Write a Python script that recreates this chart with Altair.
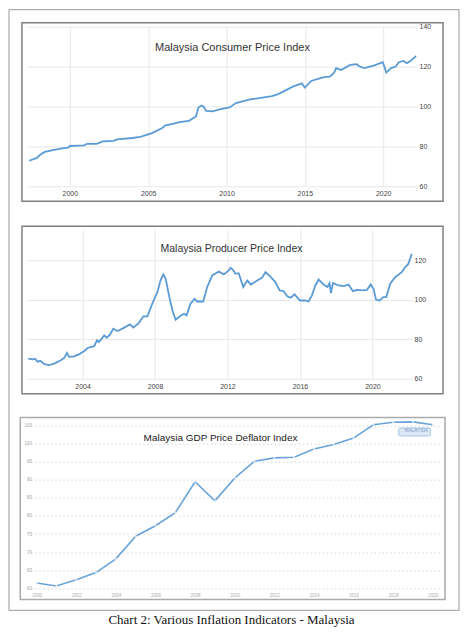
import altair as alt
import pandas as pd

# ---------------- data ----------------
cpi_year = [1997.4, 1997.9, 1998.1, 1998.4, 1999.0, 1999.5, 1999.9, 2000.0, 2000.9, 2001.1,
            2001.7, 2002.1, 2002.8, 2003.0, 2004.0, 2004.5, 2005.2, 2005.9, 2006.1, 2006.5,
            2007.0, 2007.6, 2008.05, 2008.2, 2008.4, 2008.55, 2008.7, 2009.1, 2009.7, 2010.2,
            2010.6, 2011.5, 2012.1, 2012.9, 2013.3, 2013.7, 2014.2, 2014.8, 2015.0, 2015.4,
            2016.0, 2016.3, 2016.6, 2016.85, 2017.0, 2017.3, 2017.9, 2018.3, 2018.5, 2018.8,
            2019.4, 2019.98, 2020.2, 2020.5, 2020.8, 2021.0, 2021.3, 2021.5, 2021.7, 2022.1]
cpi_value = [72.8, 74.2, 75.8, 77.2, 78.3, 79.0, 79.4, 80.2, 80.5, 81.3,
             81.3, 82.5, 82.8, 83.5, 84.2, 84.8, 86.5, 89.2, 90.5, 91.2,
             92.2, 92.8, 95.0, 99.5, 100.5, 99.8, 97.8, 97.5, 98.8, 99.5,
             101.7, 103.5, 104.2, 105.2, 106.2, 107.8, 109.8, 111.6, 109.5, 112.8,
             114.2, 114.8, 115.0, 116.7, 119.2, 118.3, 120.8, 121.2, 120.0, 119.2,
             120.5, 122.2, 117.0, 119.2, 120.0, 122.2, 122.8, 121.7, 122.5, 125.3]

ppi_year = [2001.0, 2001.25, 2001.37, 2001.52, 2001.67, 2001.9, 2002.16, 2002.44, 2002.8, 2003.0,
            2003.14, 2003.26, 2003.54, 2003.8, 2004.1, 2004.28, 2004.64, 2004.8, 2004.9, 2005.2,
            2005.34, 2005.52, 2005.7, 2005.93, 2006.2, 2006.62, 2006.8, 2007.1, 2007.36, 2007.58,
            2007.85, 2008.13, 2008.3, 2008.46, 2008.59, 2008.77, 2008.96, 2009.14, 2009.37, 2009.6,
            2009.74, 2009.96, 2010.18, 2010.33, 2010.66, 2010.88, 2011.16, 2011.52, 2011.8, 2012.07,
            2012.17, 2012.3, 2012.44, 2012.62, 2012.87, 2013.09, 2013.3, 2013.64, 2013.9, 2014.1,
            2014.37, 2014.64, 2014.88, 2015.1, 2015.3, 2015.5, 2015.7, 2016.0, 2016.3, 2016.48,
            2016.66, 2016.85, 2017.03, 2017.3, 2017.52, 2017.63, 2017.71, 2017.82, 2018.13, 2018.44,
            2018.68, 2018.92, 2019.14, 2019.47, 2019.7, 2019.9, 2020.06, 2020.2, 2020.39, 2020.6,
            2020.76, 2020.98, 2021.25, 2021.62, 2021.8, 2021.98, 2022.17]
ppi_value = [70.2, 69.9, 70.2, 68.7, 69.1, 67.4, 67.0, 67.7, 69.4, 70.7,
             73.1, 71.1, 71.4, 72.4, 74.1, 75.6, 76.5, 79.5, 78.6, 82.0,
             80.8, 82.5, 85.4, 84.2, 85.4, 87.5, 85.9, 88.2, 91.6, 91.6,
             98.0, 103.8, 109.7, 112.8, 110.6, 102.2, 94.6, 89.9, 91.6, 92.9,
             92.1, 98.0, 100.5, 99.1, 99.1, 106.4, 112.3, 114.3, 112.8, 114.8,
             116.1, 115.1, 113.1, 113.4, 106.4, 109.7, 107.7, 109.7, 111.1, 113.9,
             111.7, 108.9, 104.7, 104.3, 101.7, 101.0, 102.7, 99.6, 99.6, 99.1,
             102.2, 107.2, 110.2, 107.7, 106.4, 108.4, 103.3, 108.4, 107.2, 106.9,
             107.7, 104.3, 105.0, 104.7, 105.0, 107.7, 105.5, 100.0, 99.6, 101.3,
             101.3, 108.1, 111.4, 113.9, 116.4, 118.1, 123.2]

gdp_year = [2000, 2001, 2002, 2003, 2004, 2005, 2006, 2007, 2008, 2009, 2010,
            2011, 2012, 2013, 2014, 2015, 2016, 2017, 2018, 2019, 2020]
gdp_value = [61.4, 60.6, 62.3, 64.3, 68.1, 74.4, 77.3, 80.9, 89.5, 84.2, 90.5,
             95.2, 96.1, 96.3, 98.6, 99.8, 101.6, 105.3, 106.0, 106.1, 105.3]
gdp_country = "MALAYSIA"

cpi_ticks_x = [2000, 2005, 2010, 2015, 2020]
cpi_ticks_y = [60, 80, 100, 120, 140]
ppi_ticks_x = [2004, 2008, 2012, 2016, 2020]
ppi_ticks_y = [60, 80, 100, 120]
gdp_ticks_x = [2000, 2002, 2004, 2006, 2008, 2010, 2012, 2014, 2016, 2018, 2020]
gdp_ticks_y = [60, 65, 70, 75, 80, 85, 90, 95, 100, 105]

title_cpi = "Malaysia Consumer Price Index"
title_ppi = "Malaysia Producer Price Index"
title_gdp = "Malaysia GDP Price Deflator Index"
caption = "Chart 2: Various Inflation Indicators - Malaysia"

# ---------------- styling ----------------
FONT = "Liberation Sans"
LINE = "#5b9bd5"
LINE3 = "#6aa3d8"


def box(x1, x2, y1, y2, color, width):
    return alt.Chart(pd.DataFrame({"k": [0]})).mark_rect(
        fillOpacity=0, stroke=color, strokeWidth=width
    ).encode(x=alt.value(x1), x2=alt.value(x2), y=alt.value(y1), y2=alt.value(y2))


def label(text, x, y, size, color="#333333", font=FONT):
    return alt.Chart(pd.DataFrame({"t": [text]})).mark_text(
        font=font, fontSize=size, color=color, baseline="alphabetic", align="center"
    ).encode(text="t:N", x=alt.value(x), y=alt.value(y))


def xaxis(values, size, color, pad, grid, gridcolor="#e8e8e8"):
    return alt.Axis(values=values, format="d", title=None, domain=False, ticks=False, tickSize=0,
                    labelPadding=pad, labelFontSize=size, labelColor=color, labelFont=FONT,
                    labelFlush=False, grid=grid, gridColor=gridcolor, gridWidth=1)


# ---------------- panel 1: CPI ----------------
cpi_df = pd.DataFrame({"year": cpi_year, "value": cpi_value})
W1, H1 = 391, 160
cpi_line = alt.Chart(cpi_df).mark_line(color=LINE, strokeWidth=1.8).encode(
    x=alt.X("year:Q", scale=alt.Scale(domain=[1997.261, 2022.165], nice=False, zero=False),
            axis=xaxis(cpi_ticks_x, 7, "#444444", 3, True)),
    y=alt.Y("value:Q", scale=alt.Scale(domain=[60, 140], nice=False, zero=False),
            axis=alt.Axis(orient="right", values=cpi_ticks_y, title=None, domain=False, ticks=False,
                          tickSize=0, labelPadding=2, labelFontSize=7, labelColor="#444444",
                          labelFont=FONT, gridColor="#e8e8e8")),
)
p1 = alt.layer(
    box(-18, 433, -17, 585, "#9a9a9a", 1),
    box(-5, 417, -4, 175, "#808080", 1.5),
    cpi_line,
    label(title_cpi, 206, 24, 11),
).properties(width=W1, height=H1)

# ---------------- panel 2: PPI ----------------
ppi_df = pd.DataFrame({"year": ppi_year, "value": ppi_value})
W2, H2 = 386, 150
ppi_line = alt.Chart(ppi_df).mark_line(color=LINE, strokeWidth=1.8).encode(
    x=alt.X("year:Q", scale=alt.Scale(domain=[2000.933, 2022.189], nice=False, zero=False),
            axis=xaxis(ppi_ticks_x, 7, "#444444", 4, True)),
    y=alt.Y("value:Q", scale=alt.Scale(domain=[60, 135.64], nice=False, zero=False),
            axis=alt.Axis(orient="right", values=ppi_ticks_y, title=None, domain=False, ticks=False,
                          tickSize=0, labelPadding=2, labelFontSize=7, labelColor="#444444",
                          labelFont=FONT, gridColor="#e8e8e8")),
)
p2 = alt.layer(
    box(-5, 417, -3, 165, "#808080", 1.5),
    ppi_line,
    label(title_ppi, 205, 23, 10.5),
).properties(width=W2, height=H2)

# ---------------- panel 3: GDP deflator ----------------
gdp_df = pd.DataFrame({"year": gdp_year, "value": gdp_value,
                       "country": [gdp_country] * len(gdp_year)})
W3, H3 = 416, 167
x3 = alt.X("year:Q", scale=alt.Scale(domain=[1999.511, 2020.468], nice=False, zero=False),
           axis=xaxis(gdp_ticks_x, 4.5, "#aaaaaa", 4, False))
y3 = alt.Y("value:Q", scale=alt.Scale(domain=[59.92, 106.12], nice=False, zero=False),
           axis=alt.Axis(orient="left", values=gdp_ticks_y, title=None, domain=False, ticks=False,
                         tickSize=0, offset=-6, labelPadding=1.5, labelFontSize=4.5,
                         labelColor="#aaaaaa", labelFont=FONT, gridColor="#d6d6d6",
                         gridDash=[1.5, 2.5]))
# the legend is merged at the top level of the stack, whose origin is panel 1's plot corner
gdp_line = alt.Chart(gdp_df).mark_line(strokeWidth=1.6).encode(
    x=x3, y=y3,
    color=alt.Color("country:N", scale=alt.Scale(range=[LINE3]),
                    legend=alt.Legend(orient="none", legendX=372, legendY=401.7, title=None,
                                      fillColor="#dbe8f6", strokeColor="#a8c6e6",
                                      cornerRadius=1.5, padding=1.5, symbolSize=0,
                                      symbolStrokeWidth=0, labelOffset=0, labelFontSize=4.8,
                                      labelColor="#7f9fc8", labelFont=FONT,
                                      labelExpr="'\u00a0\u00a0\u00a0\u00a0' + datum.label + '\u00a0\u00a0\u00a0\u00a0'")),
)
gdp_pts = alt.Chart(gdp_df).mark_circle(size=5, color="#dce9f7", opacity=1).encode(x=x3, y=y3)
p3 = alt.layer(
    box(-6.7, 419, -4.3, 178, "#aaaaaa", 1.5),
    gdp_line,
    gdp_pts,
    label(title_gdp, 194, 19, 10, "#222222"),
    label(caption, 205, 202.5, 13, "#111111", "Liberation Serif"),
).properties(width=W3, height=H3)

chart = alt.vconcat(p1, p2, p3, spacing=43, bounds="flush").properties(
    padding=0, background="white"
).configure_view(strokeWidth=0)

chart.save("out.html", embed_options={"renderer": "svg", "actions": False})
